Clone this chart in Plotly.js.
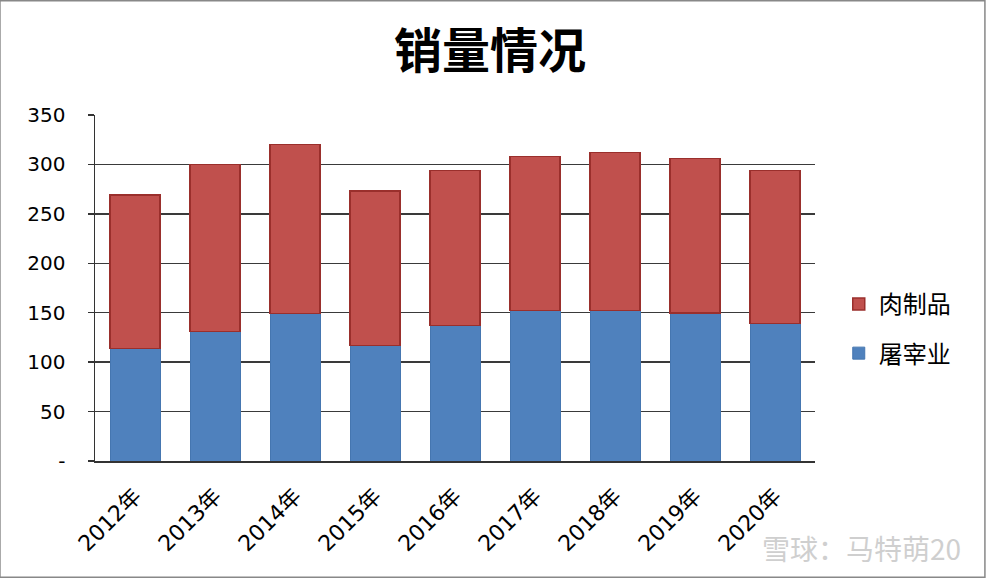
<!DOCTYPE html>
<html>
<head>
<meta charset="utf-8">
<script src="https://cdn.plot.ly/plotly-3.0.1.min.js"></script>
<style>html,body{margin:0;padding:0;background:#fff;}#chart{width:986px;height:578px;}</style>
</head>
<body>
<div id="chart"></div>
<script>
const years = ["2012年","2013年","2014年","2015年","2016年","2017年","2018年","2019年","2020年"];
const slaughter = [114, 131, 149, 117, 137, 152, 152, 149.5, 139];
const meat = [155, 169, 171, 156, 157, 156, 160, 156.5, 155];
const yTickVals = [0, 50, 100, 150, 200, 250, 300, 350];
const yTickText = ["-", "50", "100", "150", "200", "250", "300", "350"];

const cjk = '"Noto Sans CJK SC", "Noto Sans", sans-serif';
const mixed = '"DejaVu Sans", "Noto Sans CJK SC", sans-serif';
const traces = [
  {type:'bar', name:'屠宰业', x: years, y: slaughter, legendgroup:'a', legendrank:2,
   marker:{color:'#4F81BD', line:{color:'#4576b0', width:1}}},
  {type:'bar', name:'肉制品', x: years, y: meat, legendgroup:'b', legendrank:1,
   marker:{color:'#C0504D', line:{color:'#9a2f2c', width:1.5}}}
];
const layout = {
  width:986, height:578,
  margin:{l:95, r:171, t:115, b:117},
  paper_bgcolor:'#fff', plot_bgcolor:'#fff',
  barmode:'stack', bargap:0.375,
  title:{text:'销量情况', x:0.497, xanchor:'center', y:0.912, yanchor:'middle',
         font:{family:cjk, size:48, color:'#000', weight:'bold'}},
  xaxis:{type:'category', tickangle:-45, showline:true, linecolor:'#333', linewidth:1.5,
         ticks:'', ticklabelstandoff:12, tickfont:{family:mixed, size:22, color:'#000'}, showgrid:false},
  yaxis:{range:[0,350], tickvals:yTickVals, ticktext:yTickText, showline:true, linecolor:'#333', linewidth:1.5,
         ticks:'outside', ticklen:6, tickcolor:'#333', tickwidth:1.5, ticklabelstandoff:18,
         showgrid:true, gridcolor:'#3a3a3a', gridwidth:1.3, zeroline:false,
         tickfont:{family:'"DejaVu Sans", sans-serif', size:20, color:'#000'}},
  legend:{x:1.033, xanchor:'left', y:0.382, yanchor:'middle', traceorder:'grouped', tracegroupgap:15,
          font:{family:cjk, size:24, color:'#000'}, bgcolor:'rgba(0,0,0,0)'},
  annotations:[
    {xref:'paper', yref:'paper', x:1.205, y:-0.25, xanchor:'right', yanchor:'middle', showarrow:false,
     text:'雪球：马特萌20', font:{family:cjk, size:28, color:'#cfcfcf'}}
  ],
  shapes:[
    {type:'rect', xref:'paper', yref:'paper', x0:-0.132, x1:1.236, y0:-0.336, y1:1.33,
     line:{color:'#888', width:1.5}, fillcolor:'rgba(0,0,0,0)'}
  ]
};
Plotly.newPlot('chart', traces, layout, {displayModeBar:false, staticPlot:true});
</script>
</body>
</html>
